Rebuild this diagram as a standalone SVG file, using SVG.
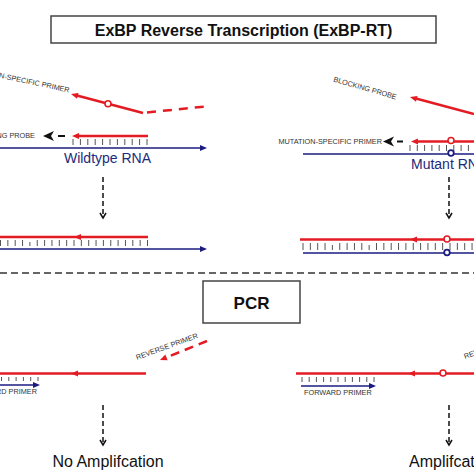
<svg xmlns="http://www.w3.org/2000/svg" xmlns:xlink="http://www.w3.org/1999/xlink" width="474" height="474" viewBox="0 0 474 474">
<style>
.red{stroke:#e31b23;stroke-width:2.5;fill:none}
.redd{stroke:#e31b23;stroke-width:2.5;fill:none;stroke-dasharray:9 7}
.blue{stroke:#1b1c80;stroke-width:1.4;fill:none}
.tick{stroke:#555;stroke-width:1}
.rc{stroke:#e31b23;stroke-width:1.6;fill:#fff}
.bc{stroke:#1b1c80;stroke-width:1.8;fill:#fff}
.lbl{font-family:"Liberation Sans",Arial,sans-serif;font-size:7.3px;fill:#333}
.big{font-family:"Liberation Sans",Arial,sans-serif;font-size:16px;fill:#111}
.rna{font-family:"Liberation Sans",Arial,sans-serif;font-size:14px;fill:#1e2a7a}
.head{font-family:"Liberation Sans",Arial,sans-serif;font-weight:bold;fill:#111;text-anchor:middle}
.box{fill:#fff;stroke:#444;stroke-width:1.5}
.vdash{stroke:#111;stroke-width:1.5;stroke-dasharray:5 3;fill:none}
.chev{stroke:#111;stroke-width:1.5;fill:none}
.sep{stroke:#333;stroke-width:1.5;stroke-dasharray:7 4}
</style>
<defs>
<path id="rh" d="M0,0 L-7,-3 L-7,3 Z" fill="#e31b23"/>
<path id="bh" d="M0,0 L-7,-3 L-7,3 Z" fill="#1b1c80"/>
<path id="kh" d="M0,0 L-11,-5 L-8,0 L-11,5 Z" fill="#111"/>
<path id="vh" d="M-3,-5 L0,0 L3,-5" class="chev"/>
</defs>

<g id="title">
<rect class="box" x="51" y="16" width="385" height="27"/>
<text class="head" x="243.5" y="35.5" font-size="16">ExBP Reverse Transcription (ExBP-RT)</text>
</g>

<g id="pcr-box">
<rect class="box" x="203" y="281" width="97" height="42"/>
<text class="head" x="251.5" y="309" font-size="17">PCR</text>
</g>

<g id="wt-rt">
<line class="red" x1="143" y1="113" x2="76" y2="95.3"/>
<use xlink:href="#rh" transform="translate(71,94) rotate(194.8)"/>
<circle class="rc" cx="108" cy="103.7" r="3"/>
<line class="redd" x1="147" y1="112.5" x2="205" y2="106.5"/>
<text class="lbl" text-anchor="end" transform="translate(69,92.5) rotate(12)">MUTATION-SPECIFIC PRIMER</text>
<line class="red" x1="148" y1="136" x2="76" y2="136"/>
<use xlink:href="#rh" transform="translate(72,136) rotate(180)"/>
<g class="tick">
<line x1="73" y1="139" x2="73" y2="145"/><line x1="80.4" y1="139" x2="80.4" y2="145"/><line x1="87.8" y1="139" x2="87.8" y2="145"/><line x1="95.2" y1="139" x2="95.2" y2="145"/><line x1="102.6" y1="139" x2="102.6" y2="145"/><line x1="110" y1="139" x2="110" y2="145"/><line x1="117.4" y1="139" x2="117.4" y2="145"/><line x1="124.8" y1="139" x2="124.8" y2="145"/><line x1="132.2" y1="139" x2="132.2" y2="145"/><line x1="139.6" y1="139" x2="139.6" y2="145"/><line x1="147" y1="139" x2="147" y2="145"/>
</g>
<line class="blue" x1="0" y1="148" x2="201" y2="148"/>
<use xlink:href="#bh" transform="translate(207,148)"/>
<line x1="58" y1="136" x2="65" y2="136" stroke="#111" stroke-width="2"/>
<use xlink:href="#kh" transform="translate(43,136) rotate(180)"/>
<text class="lbl" text-anchor="end" x="35" y="138">BLOCKING PROBE</text>
<text class="rna" text-anchor="middle" x="107.5" y="163">Wildtype RNA</text>
</g>

<g id="wt-cdna">
<line class="red" x1="0" y1="237" x2="148" y2="237"/>
<use xlink:href="#rh" transform="translate(74,237) rotate(180)"/>
<g class="tick">
<line x1="0.5" y1="240" x2="0.5" y2="246"/><line x1="7.85" y1="240" x2="7.85" y2="246"/><line x1="15.2" y1="240" x2="15.2" y2="246"/><line x1="22.55" y1="240" x2="22.55" y2="246"/><line x1="29.9" y1="242" x2="29.9" y2="246"/><line x1="37.25" y1="240" x2="37.25" y2="246"/><line x1="44.6" y1="240" x2="44.6" y2="246"/><line x1="51.95" y1="240" x2="51.95" y2="246"/><line x1="59.3" y1="240" x2="59.3" y2="246"/><line x1="66.65" y1="240" x2="66.65" y2="246"/><line x1="74" y1="240" x2="74" y2="246"/><line x1="81.35" y1="240" x2="81.35" y2="246"/><line x1="88.7" y1="240" x2="88.7" y2="246"/><line x1="96.05" y1="240" x2="96.05" y2="246"/><line x1="103.4" y1="240" x2="103.4" y2="246"/><line x1="110.75" y1="240" x2="110.75" y2="246"/><line x1="118.1" y1="240" x2="118.1" y2="246"/><line x1="125.45" y1="240" x2="125.45" y2="246"/><line x1="132.8" y1="240" x2="132.8" y2="246"/><line x1="140.15" y1="240" x2="140.15" y2="246"/><line x1="147.5" y1="240" x2="147.5" y2="246"/>
</g>
<line class="blue" x1="0" y1="249" x2="201" y2="249"/>
<use xlink:href="#bh" transform="translate(207,249)"/>
</g>

<g id="mut-rt">
<text class="lbl" transform="translate(333,81.5) rotate(16)">BLOCKING PROBE</text>
<line class="red" x1="474" y1="114" x2="415" y2="98.3"/>
<use xlink:href="#rh" transform="translate(410,97) rotate(194.9)"/>
<line class="red" x1="474" y1="141.5" x2="415" y2="141.5"/>
<use xlink:href="#rh" transform="translate(411,141.5) rotate(180)"/>
<circle class="rc" cx="451" cy="140.5" r="3"/>
<g class="tick">
<line x1="410" y1="145" x2="410" y2="151"/><line x1="417.3" y1="145" x2="417.3" y2="151"/><line x1="424.6" y1="145" x2="424.6" y2="151"/><line x1="431.9" y1="145" x2="431.9" y2="151"/><line x1="439.2" y1="145" x2="439.2" y2="151"/><line x1="446.5" y1="145" x2="446.5" y2="151"/><line x1="453.8" y1="145" x2="453.8" y2="151"/><line x1="461.1" y1="145" x2="461.1" y2="151"/><line x1="468.4" y1="145" x2="468.4" y2="151"/>
</g>
<line class="blue" x1="303" y1="154" x2="474" y2="154"/>
<circle class="bc" cx="451" cy="153" r="2.8"/>
<line x1="397" y1="141.5" x2="403" y2="141.5" stroke="#111" stroke-width="2"/>
<use xlink:href="#kh" transform="translate(383,141.5) rotate(180)"/>
<text class="lbl" text-anchor="end" x="382" y="143.5">MUTATION-SPECIFIC PRIMER</text>
<text class="rna" x="411" y="169">Mutant RNA</text>
</g>

<g id="mut-cdna">
<line class="red" x1="300" y1="239.5" x2="474" y2="239.5"/>
<use xlink:href="#rh" transform="translate(410,239.5) rotate(180)"/>
<circle class="rc" cx="447" cy="239" r="3"/>
<g class="tick">
<line x1="303" y1="243" x2="303" y2="250"/><line x1="310.35" y1="243" x2="310.35" y2="250"/><line x1="317.7" y1="243" x2="317.7" y2="250"/><line x1="325.05" y1="243" x2="325.05" y2="250"/><line x1="332.4" y1="245" x2="332.4" y2="250"/><line x1="339.75" y1="243" x2="339.75" y2="250"/><line x1="347.1" y1="243" x2="347.1" y2="250"/><line x1="354.45" y1="243" x2="354.45" y2="250"/><line x1="361.8" y1="243" x2="361.8" y2="250"/><line x1="369.15" y1="245" x2="369.15" y2="250"/><line x1="376.5" y1="243" x2="376.5" y2="250"/><line x1="383.85" y1="243" x2="383.85" y2="250"/><line x1="391.2" y1="243" x2="391.2" y2="250"/><line x1="398.55" y1="243" x2="398.55" y2="250"/><line x1="405.9" y1="243" x2="405.9" y2="250"/><line x1="413.25" y1="243" x2="413.25" y2="250"/><line x1="420.6" y1="243" x2="420.6" y2="250"/><line x1="427.95" y1="243" x2="427.95" y2="250"/><line x1="435.3" y1="243" x2="435.3" y2="250"/><line x1="442.65" y1="243" x2="442.65" y2="250"/><line x1="450" y1="243" x2="450" y2="250"/><line x1="457.35" y1="243" x2="457.35" y2="250"/><line x1="464.7" y1="243" x2="464.7" y2="250"/><line x1="472.05" y1="243" x2="472.05" y2="250"/>
</g>
<line class="blue" x1="303" y1="253" x2="474" y2="253"/>
<circle class="bc" cx="447" cy="252.5" r="2.8"/>
</g>

<g id="wt-pcr">
<text class="lbl" transform="translate(137,360) rotate(-20)">REVERSE PRIMER</text>
<line class="red" x1="207" y1="341" x2="166" y2="357.6" style="stroke-dasharray:9 6"/>
<use xlink:href="#rh" transform="translate(160,360) rotate(158)"/>
<line class="red" x1="0" y1="373.5" x2="146" y2="373.5"/>
<use xlink:href="#rh" transform="translate(71,373.5) rotate(180)"/>
<g class="tick">
<line x1="1.5" y1="377" x2="1.5" y2="381"/><line x1="8.8" y1="377" x2="8.8" y2="381"/><line x1="16.1" y1="377" x2="16.1" y2="381"/><line x1="23.4" y1="377" x2="23.4" y2="381"/><line x1="30.7" y1="377" x2="30.7" y2="381"/><line x1="38" y1="377" x2="38" y2="381"/>
</g>
<line class="blue" x1="0" y1="385" x2="34" y2="385"/>
<use xlink:href="#bh" transform="translate(40,385)"/>
<text class="lbl" text-anchor="end" x="37" y="394">FORWARD PRIMER</text>
<text class="big" text-anchor="middle" x="108" y="467">No Amplifcation</text>
</g>

<g id="mut-pcr">
<text class="lbl" transform="translate(465,359) rotate(-20)">REVERSE PRIMER</text>
<line class="red" x1="296" y1="373.5" x2="474" y2="373.5"/>
<use xlink:href="#rh" transform="translate(408,373.5) rotate(180)"/>
<circle class="rc" cx="443" cy="373" r="3"/>
<g class="tick">
<line x1="302" y1="377" x2="302" y2="382"/><line x1="309.2" y1="377" x2="309.2" y2="382"/><line x1="316.4" y1="377" x2="316.4" y2="382"/><line x1="323.6" y1="377" x2="323.6" y2="382"/><line x1="330.8" y1="377" x2="330.8" y2="382"/><line x1="338" y1="377" x2="338" y2="382"/><line x1="345.2" y1="377" x2="345.2" y2="382"/><line x1="352.4" y1="377" x2="352.4" y2="382"/><line x1="359.6" y1="377" x2="359.6" y2="382"/><line x1="366.8" y1="377" x2="366.8" y2="382"/><line x1="374" y1="377" x2="374" y2="382"/>
</g>
<line class="blue" x1="301" y1="386" x2="370" y2="386"/>
<use xlink:href="#bh" transform="translate(376,386)"/>
<text class="lbl" x="304" y="394.5">FORWARD PRIMER</text>
<text class="big" x="409" y="467">Amplifcation</text>
</g>

<g id="connectors">
<line class="sep" x1="0" y1="273" x2="474" y2="273"/>
<line class="vdash" x1="103" y1="177" x2="103" y2="216"/>
<use xlink:href="#vh" transform="translate(103,218)"/>
<line class="vdash" x1="449" y1="177" x2="449" y2="216"/>
<use xlink:href="#vh" transform="translate(449,218)"/>
<line class="vdash" x1="103" y1="405" x2="103" y2="443"/>
<use xlink:href="#vh" transform="translate(103,445)"/>
<line class="vdash" x1="449" y1="405" x2="449" y2="443"/>
<use xlink:href="#vh" transform="translate(449,445)"/>
</g>
</svg>
